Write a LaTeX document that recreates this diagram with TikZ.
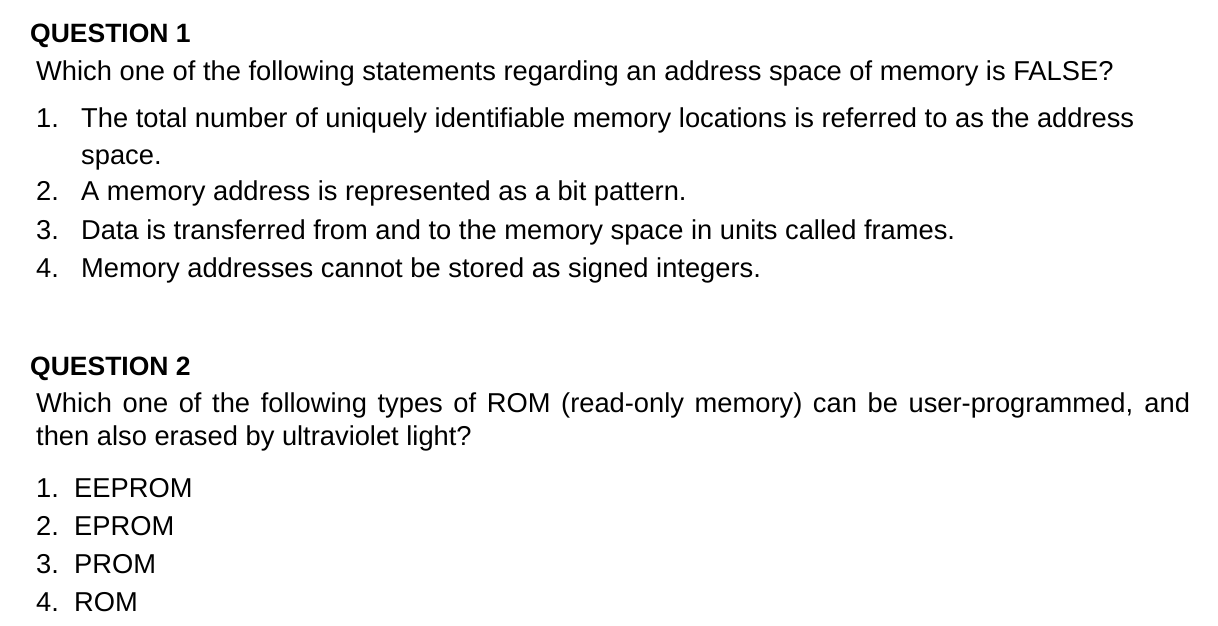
\documentclass[tikz,border=0pt]{standalone}
\usepackage{fontspec}
\setmainfont{Liberation Sans}
\begin{document}
\begin{tikzpicture}[x=1pt,y=-1pt,
  t/.style={anchor=base west,inner sep=0pt,font=\fontsize{27.3}{32}\selectfont},
  h/.style={t,font=\fontsize{26.5}{32}\selectfont\bfseries}]
\fill[white] (0,0) rectangle (1218,626);
\useasboundingbox (0,0) rectangle (1218,626);
\node[h] (q1) at (30,43) {QUESTION 1};
\node[t] (p1) at (36,81) {Which one of the following statements regarding an address space of memory is FALSE?};
\node[t] (n11) at (36,127) {1.}; \node[t] (a11) at (81,127) {The total number of uniquely identifiable memory locations is referred to as the address};
\node[t] (a11b) at (81,164) {space.};
\node[t] (n12) at (36,200) {2.}; \node[t] (a12) at (81,200) {A memory address is represented as a bit pattern.};
\node[t] (n13) at (36,239) {3.}; \node[t] (a13) at (81,239) {Data is transferred from and to the memory space in units called frames.};
\node[t] (n14) at (36,277) {4.}; \node[t] (a14) at (81,277) {Memory addresses cannot be stored as signed integers.};
\node[h] (q2) at (30,375) {QUESTION 2};
\node[t] (p2) at (36,412) {\hbox to 1154pt{Which one of the following types of ROM (read-only memory) can be user-programmed, and}};
\node[t] (p2b) at (36,445) {then also erased by ultraviolet light?};
\node[t] (n21) at (36,497) {1.}; \node[t] (a21) at (74,497) {EEPROM};
\node[t] (n22) at (36,535) {2.}; \node[t] (a22) at (74,535) {EPROM};
\node[t] (n23) at (36,573) {3.}; \node[t] (a23) at (74,573) {PROM};
\node[t] (n24) at (36,611) {4.}; \node[t] (a24) at (74,611) {ROM};
\end{tikzpicture}
\end{document}
